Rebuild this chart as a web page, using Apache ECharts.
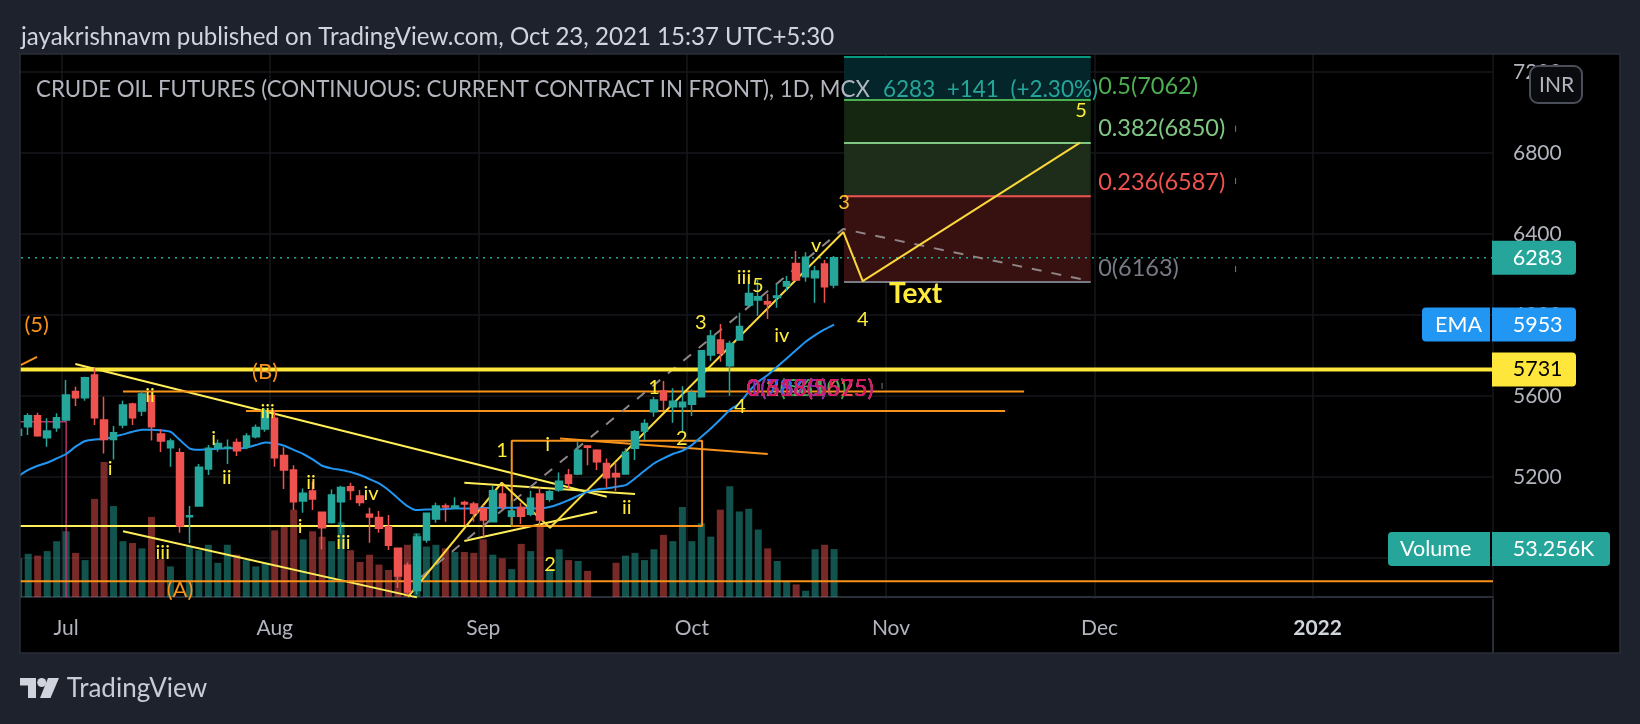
<!DOCTYPE html>
<html>
<head>
<meta charset="utf-8">
<title>Crude oil futures</title>
<script src="https://cdn.jsdelivr.net/npm/echarts@6/dist/echarts.min.js"></script>
<style>
html,body{margin:0;padding:0;background:#1e222d}
#main{width:1640px;height:724px}
</style>
</head>
<body>
<div id="main"></div>
<script>
// open, close, low, high per trading day
var candles = [
[5406,5436,5399,5449],[5449,5503,5408,5515],[5503,5404,5399,5518],[5394,5427,5350,5490],[5444,5493,5424,5515],
[5482,5605,5473,5679],[5622,5592,5551,5646],[5592,5691,5577,5696],[5704,5493,5457,5737],[5482,5386,5317,5597],
[5386,5419,5287,5452],[5457,5556,5441,5577],[5561,5493,5457,5567],[5526,5610,5501,5627],[5602,5449,5380,5622],
[5413,5378,5324,5436],[5345,5378,5251,5391],[5320,4958,4925,5342],[5004,5009,4873,5057],[5057,5248,5057,5264],
[5240,5342,5210,5358],[5342,5366,5325,5386],[5343,5347,5264,5386],[5371,5330,5304,5391],[5350,5403,5338,5416],
[5399,5445,5391,5460],[5437,5518,5424,5539],[5490,5296,5251,5531],[5306,5235,5141,5347],[5235,5078,5037,5258],
[5082,5120,5024,5144],[5131,5092,5037,5177],[5026,4950,4843,5026],[4976,5111,4971,5139],[5078,5149,4922,5157],
[5152,5134,5087,5172],[5106,5075,5057,5136],[5016,5003,4876,5049],[5001,4947,4925,5032],[4955,4864,4840,5013],
[4849,4711,4652,4849],[4765,4632,4617,4780],[4640,4904,4620,4920],[4889,5021,4876,5024],[4993,5057,4975,5073],
[5057,5052,4979,5070],[5050,5057,5044,5100],[5075,5067,4963,5083],[5067,5022,4979,5078],[5044,4988,4905,5062],
[4979,5133,4979,5156],[5116,5054,5040,5156],[5007,5032,4960,5083],[5050,5007,4968,5073],[5017,5095,5007,5133],
[5116,4988,4963,5149],[5090,5128,5078,5136],[5136,5180,5128,5223],[5210,5169,5144,5240],[5215,5333,5210,5374],
[5353,5347,5259,5358],[5333,5276,5235,5337],[5267,5197,5147,5292],[5218,5202,5131,5272],[5215,5322,5215,5342],
[5342,5424,5284,5432],[5427,5465,5383,5486],[5523,5580,5498,5595],[5625,5580,5531,5674],[5547,5575,5468,5638],
[5547,5569,5424,5649],[5560,5616,5501,5633],[5597,5824,5597,5827],[5803,5896,5775,5926],[5877,5811,5770,5956],
[5750,5860,5602,5873],[5877,5943,5873,6012],[6050,6107,6041,6193],[6074,6091,5997,6173],[6066,6054,5980,6104],
[6087,6094,6036,6153],[6143,6165,6120,6193],[6255,6173,6168,6316],[6189,6285,6165,6310],[6184,6217,6061,6242],
[6252,6140,6061,6272],[6148,6283,6132,6291]
];
var volumesK = [43,48,46,51,62,73,49,41,109,150,101,62,60,54,89,42,34,null,56,52,58,38,58,47,41,34,38,74,80,97,
64,73,67,62,83,52,39,47,36,30,30,58,71,56,58,54,50,50,49,64,47,43,31,59,51,78,30,53,41,40,29,null,null,38,46,49,41,
53,69,62,100,62,82,67,97,123,95,98,75,54,40,17,14,7,53,58,53.256];
var emaValues = [5205,5235,5256,5271,5292,5314,5350,5378,5386,5388,5399,5411,5424,5434,5434,5431,5424,5383,5342,5335,
5337,5340,5342,5342,5345,5358,5371,5366,5355,5334,5314,5287,5256,5243,5235,5225,5210,5190,5169,5136,5095,5057,5037,
5040,5040,5042,5045,5045,5045,5047,5049,5049,5049,5049,5047,5045,5052,5067,5086,5108,5128,5139,5144,5152,5160,5193,
5231,5267,5292,5314,5330,5358,5399,5440,5485,5531,5564,5622,5671,5704,5745,5786,5827,5868,5901,5929,5953];

var priceTicks = [7200,6800,6400,6000,5600,5200,4800];
var monthTicks = {'2021-07-01':'Jul','2021-08-02':'Aug','2021-09-01':'Sep','2021-10-01':'Oct','2021-11-01':'Nov','2021-12-01':'Dec','2022-01-03':'2022'};

var lastPrice = 6283, emaLast = 5953, supportLevel = 5731, volumeLast = 53.256;

// fib box, levels and the filled bands between them
var fibLevels = ['0','0.236','0.382','0.5'];
var fibPrices = [6163,6587,6850,7062];
var fibTop = 7274;
var fibColors = ['#787b86','#ef5350','#81c784','#4caf50'];
var fibFills = ['#37110f','#1e2c1a','#152611','#04262a'];
var fibStart = 87.05, fibEnd = 113.07;

// drawings: points are [bar index, price]
var waveLine = [[41.06,4608],[50.94,5172],[56.04,4950],[86.98,6410],[89.02,6168],[111.95,6851]];
var dashedLine = [[42.43,4706],[86.95,6425],[113,6168]];
var yellowLines = [
  [[5.97,5758],[62.02,5103]],
  [[11,4933],[42,4606]],
  [[47,5172],[65,5116]],
  [[47,4884],[61,5029]],
  [[-0.5,4958],[52,4958]]
];
var orangeLines = [
  [[11,5623],[106.04,5623]],
  [[23.97,5526],[104.04,5526]],
  [[-0.5,4686],[155.5,4686]],
  [[52,4958],[52,5379],[72.08,5379],[72.08,4958],[52,4958]],
  [[57.1,5391],[79,5314]],
  [[0.2,5753],[1.93,5794]]
];
var pinkLine = [[-0.5,5473],[5,5473],[5,4606]];
// small leftovers next to the fib labels
var cursorTicks = [
  [[128.35,6935],[128.35,6905]],
  [[128.35,6677],[128.35,6647]],
  [[128.35,6242],[128.35,6212]],
  [[91.06,5665],[91.06,5635]]
];

var waveLabels = [
  ['(5)',1.89,5951,'#f7931a',22],['(B)',25.98,5720,'#f7931a',22],['(A)',17.01,4642,'#f7931a',22],
  ['i',9.63,5240],['iii',15.19,4825],['i',20.57,5388],['ii',21.94,5200],['iii',26.26,5523],['ii',13.85,5605],
  ['i',29.67,4958],['ii',30.83,5175],['iii',34.24,4879],['iv',37.16,5121],['1',50.98,5329],['i',55.8,5363],
  ['ii',64.13,5052],['2',56.04,4766],['2',69.93,5388],['1',67.01,5640],['3',71.94,5962],['iii',76.5,6183],
  ['5',77.95,6148],['iv',80.48,5901],['v',84.1,6342],['4',76.08,5546],['3',87.05,6558,'#fbc02d'],['5',112.05,7009],['4',89.03,5980]
];
// second fib tool whose labels all landed on the same spot
var stackedLabels = [
  ['0(5640)','#787b86'],['0.382(5575)','#81c784'],['0.5(5610)','#4caf50'],['0.236(5625)','#ef5350'],
  ['0.786(5575)','#2962ff'],['1(5575)','#9c27b0'],['0.618(5575)','#d81b60'],['0.618(5575)','#d81b60']
];

var FONT = 'Lato';
var teal = '#26a69a', red = '#ef5350', yellow = '#ffeb3b', orange = '#f7931a';

// weekdays from Jun 24 2021 to end of Jan 2022
var categories = [];
for (var t = Date.UTC(2021,5,24); categories.length < 156; t += 86400000) {
    var d = new Date(t);
    if (d.getUTCDay() != 0 && d.getUTCDay() != 6) categories.push(d.toISOString().slice(0,10));
}
function isMonth(i, v) { return !!monthTicks[v]; }

function drawing(points, color, width, dash, z) {
    return {
        type: 'line', xAxisIndex: 1, yAxisIndex: 0, data: points, showSymbol: false, silent: true, z: z || 2,
        lineStyle: {color: color, width: width, type: dash || 'solid'}
    };
}

var series = [];

// fib box bands
var fibEdges = fibPrices.concat([fibTop]);
series.push({
    type: 'line', xAxisIndex: 1, yAxisIndex: 0, data: [], silent: true, z: 1,
    markArea: {
        silent: true,
        data: fibFills.map(function (c, i) {
            return [{coord: [fibStart, fibEdges[i]], itemStyle: {color: c}}, {coord: [fibEnd, fibEdges[i + 1]]}];
        })
    }
});
fibPrices.forEach(function (p, i) {
    series.push(drawing([[fibStart, p], [fibEnd, p]], fibColors[i], 2));
});
series.push(drawing([[fibStart, fibTop], [fibEnd, fibTop]], '#089981', 2));

series.push(drawing([[-0.5,lastPrice],[155.5,lastPrice]], teal, 1.5, [2,5]));
series.push(drawing(pinkLine, '#b7336a', 1.5));
yellowLines.forEach(function (l) { series.push(drawing(l, '#ffee58', 2)); });
orangeLines.forEach(function (l) { series.push(drawing(l, orange, 2)); });
cursorTicks.forEach(function (l) { series.push(drawing(l, '#787b86', 1)); });
series.push(drawing(dashedLine, '#8f8486', 2, [10,10]));
series.push(drawing(waveLine, '#fbd83a', 2));
series.push(drawing([[-0.5,supportLevel],[155.5,supportLevel]], '#ffe63b', 4));

series.push({
    type: 'bar', xAxisIndex: 0, yAxisIndex: 1, barWidth: 7, silent: true, z: 2,
    data: volumesK.map(function (v, i) {
        return {
            value: v,
            itemStyle: {color: candles[i][1] >= candles[i][0] ? 'rgba(38,166,154,0.5)' : 'rgba(239,83,80,0.5)'}
        };
    })
});
series.push({
    type: 'line', xAxisIndex: 0, yAxisIndex: 0, data: emaValues, showSymbol: false, silent: true, z: 2,
    smooth: 0.2, lineStyle: {color: '#2196f3', width: 2}
});
series.push({
    type: 'candlestick', xAxisIndex: 0, yAxisIndex: 0, data: candles, barWidth: 7, silent: true, z: 3,
    itemStyle: {color: teal, color0: red, borderColor: teal, borderColor0: red, borderWidth: 1.5}
});

// text on the chart
var labelData = waveLabels.map(function (r) {
    return {value: [r[1], r[2]], label: {formatter: r[0], color: r[3] || yellow, fontSize: r[4] || 20}};
});
labelData.push({value: [94.6,6102], label: {formatter: 'Text', color: yellow, fontSize: 28, fontWeight: 'bold'}});
fibPrices.forEach(function (p, i) {
    labelData.push({
        value: [113.85, p],
        label: {formatter: fibLevels[i] + '(' + p + ')', color: fibColors[i], fontSize: 23.5, align: 'left', offset: [0,-14]}
    });
});
stackedLabels.forEach(function (r) {
    labelData.push({value: [76.78,5640], label: {formatter: r[0], color: r[1], fontSize: 23.5, align: 'left'}});
});
series.push({
    type: 'scatter', xAxisIndex: 1, yAxisIndex: 0, symbolSize: 0, silent: true, z: 5, clip: false, data: labelData,
    itemStyle: {opacity: 1},
    label: {show: true, position: 'inside', fontFamily: FONT, align: 'center', verticalAlign: 'middle'}
});

var splitColor = '#15171c';
var option = {
    animation: false,
    backgroundColor: '#1e222d',
    textStyle: {fontFamily: FONT},
    grid: {left: 14, right: 147, top: 54, bottom: 125, show: false},
    xAxis: [{
        type: 'category', data: categories, boundaryGap: true,
        axisLine: {lineStyle: {color: '#2a2e39', width: 2}},
        axisTick: {show: false},
        splitLine: {show: true, interval: isMonth, lineStyle: {color: splitColor, width: 1.5}},
        axisLabel: {
            interval: isMonth, margin: 19, color: '#b2b5be', fontSize: 21, fontFamily: FONT,
            formatter: function (v) {
                var s = monthTicks[v] || '';
                return s == '2022' ? '{y|' + s + '}' : s;
            },
            rich: {y: {color: '#d1d4dc', fontSize: 21, fontWeight: 'bold', fontFamily: FONT}}
        }
    }, {
        type: 'value', min: -0.5, max: 155.5, show: false, position: 'top', splitLine: {show: false}
    }],
    yAxis: [{
        type: 'value', position: 'right', min: 4598, max: 7289,
        axisLine: {show: true, lineStyle: {color: '#2a2e39', width: 2}},
        axisTick: {show: false, customValues: priceTicks},
        splitLine: {show: true, lineStyle: {color: splitColor, width: 1.5}},
        axisLabel: {
            customValues: priceTicks, margin: 20, color: '#b2b5be', fontSize: 21, fontFamily: FONT,
            formatter: function (v) { return String(v); }
        }
    }, {
        type: 'value', min: -2.2, max: 603, show: false, splitLine: {show: false}
    }],
    series: series
};

var myChart = echarts.init(document.getElementById('main'));
myChart.setOption(option);

function rect(x0, y0, x1, y1, color, z, r) {
    return {type: 'rect', z: z, silent: true, shape: {x: x0, y: y0, width: x1 - x0, height: y1 - y0, r: r || 0}, style: {fill: color}};
}
function text(s, x, y, color, size, z, extra) {
    var st = {text: s, x: x, y: y, fill: color, font: (extra || '') + ' ' + size + 'px ' + FONT, textVerticalAlign: 'middle'};
    return {type: 'text', z: z, silent: true, style: st};
}

// tags on the price scale sit on their own value
function priceTag(value, axis, color, textColor, name, nameLeft, tagLeft, tagRight, valueText) {
    var pt = myChart.convertToPixel({yAxisIndex: axis}, value);
    var els = [rect(1492, pt - 17, tagRight, pt + 17, color, 60, [0,4,4,0]),
        text(valueText, 1512.7, pt, textColor, 21.5, 61)];
    if (name) {
        els.push(rect(tagLeft, pt - 17, 1490, pt + 17, color, 60, [4,0,0,4]));
        els.push(text(name, nameLeft, pt, textColor, 21.5, 61));
    }
    return els;
}

var elements = [
    rect(20, 54, 1620, 653, '#000000', -1),
    rect(0, 54, 20, 653, '#1e222d', 50),
    {type: 'rect', z: 55, silent: true, shape: {x: 20, y: 54, width: 1600, height: 599}, style: {fill: 'transparent', stroke: '#2a2e39', lineWidth: 1.5}},
    {type: 'line', z: 55, silent: true, shape: {x1: 1493, y1: 599, x2: 1493, y2: 653}, style: {stroke: '#2a2e39', lineWidth: 2}},
    text('jayakrishnavm published on TradingView.com, Oct 23, 2021 15:37 UTC+5:30', 21, 37, '#d1d4dc', 24.1, 60),
    text('CRUDE OIL FUTURES (CONTINUOUS: CURRENT CONTRACT IN FRONT), 1D, MCX', 36, 90, '#b2b5be', 22.3, 60),
    text('6283  +141  (+2.30%)', 883, 90, teal, 22.5, 60),
    text('TradingView', 66.7, 689, '#c9ccd6', 26, 60),
    // logo
    {type: 'polygon', z: 60, silent: true, shape: {points: [[20,678],[36,678],[36,698],[28,698],[28,685.5],[20,685.5]]}, style: {fill: '#d1d4dc'}},
    {type: 'circle', z: 60, silent: true, shape: {cx: 41.7, cy: 682.5, r: 4.5}, style: {fill: '#d1d4dc'}},
    {type: 'polygon', z: 60, silent: true, shape: {points: [[48,678],[59,678],[50.5,698],[40,698]]}, style: {fill: '#d1d4dc'}},
    // INR button
    {type: 'rect', z: 60, silent: true, shape: {x: 1530, y: 66, width: 52, height: 37, r: 8}, style: {fill: '#0a0b0e', stroke: '#4a4e59', lineWidth: 2}},
    text('INR', 1539, 85, '#b2b5be', 21, 61)
];
elements = elements
    .concat(priceTag(lastPrice, 0, teal, '#ffffff', null, 0, 0, 1576, String(lastPrice)))
    .concat(priceTag(emaLast, 0, '#2196f3', '#ffffff', 'EMA', 1435, 1422, 1576, String(emaLast)))
    .concat(priceTag(supportLevel, 0, '#ffe63b', '#000000', null, 0, 0, 1576, String(supportLevel)))
    .concat(priceTag(volumeLast, 1, teal, '#ffffff', 'Volume', 1400, 1388, 1610, volumeLast + 'K'));
myChart.setOption({graphic: {elements: elements}});
</script>
</body>
</html>
